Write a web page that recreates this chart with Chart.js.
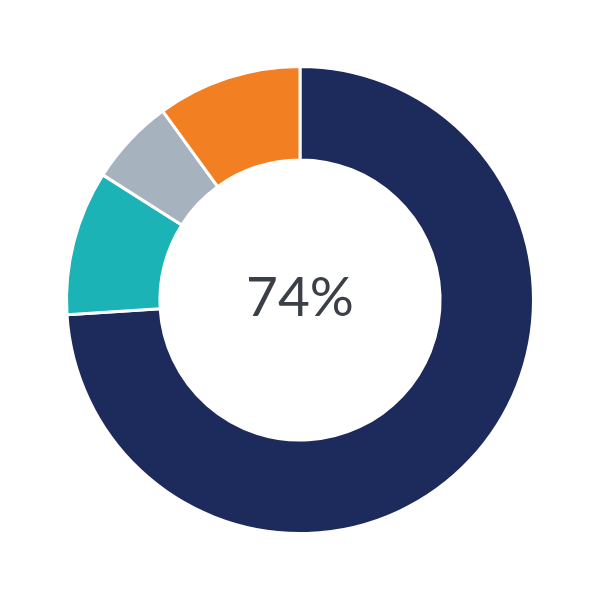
<!DOCTYPE html>
<html lang="en">
<head>
    <meta charset="UTF-8">
    <title>Doughnut</title>
    <script src="https://cdn.jsdelivr.net/npm/chart.js"></script>
    <style>
        html, body { margin: 0; padding: 0; background: #fff; }
        #wrap { width: 600px; height: 600px; }
    </style>
</head>
<body>
    <div id="wrap"><canvas id="myChart"></canvas></div>
    <script>
        var labels = ['A', 'B', 'C', 'D'];
        var values = [74, 10, 6, 10];
        var colors = ['#1c2b5b', '#1bb3b6', '#a7b2bf', '#f27f22'];
        var centerText = '74%';

        // texto central
        var centerPlugin = {
            id: 'centerText',
            afterDraw: function (chart) {
                var ctx = chart.ctx;
                var a = chart.chartArea;
                ctx.save();
                ctx.font = '400 55px Lato';
                ctx.fillStyle = '#3b4048';
                ctx.textAlign = 'center';
                ctx.textBaseline = 'middle';
                ctx.fillText(centerText, (a.left + a.right) / 2, (a.top + a.bottom) / 2 - 2);
                ctx.restore();
            }
        };

        var myChart = new Chart(document.getElementById('myChart'), {
            type: 'doughnut',
            data: {
                labels: labels,
                datasets: [{
                    data: values,
                    backgroundColor: colors,
                    borderColor: '#ffffff',
                    borderWidth: 3
                }]
            },
            options: {
                responsive: true,
                maintainAspectRatio: false,
                animation: false,
                cutout: '60%',
                layout: { padding: 65 },
                plugins: {
                    legend: { display: false },
                    tooltip: { enabled: false }
                }
            },
            plugins: [centerPlugin]
        });
    </script>
</body>
</html>
